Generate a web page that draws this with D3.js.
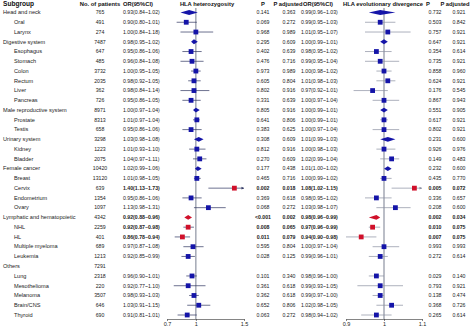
<!DOCTYPE html>
<html><head><meta charset="utf-8">
<script src="https://cdn.jsdelivr.net/npm/d3@7"></script>
<style>body{margin:0;background:#fff}svg{display:block;font-family:"Liberation Sans",Arial,sans-serif}</style>
</head><body><svg id="c" width="474" height="327"></svg>
<script>
const subgroups=["Head and neck","Oral","Larynx","Digestive system","Esophagus","Stomach","Colon","Rectum","Liver","Pancreas","Male reproductive system","Prostate","Testis","Urinary system","Kidney","Bladder","Female cancer","Breast","Cervix","Endometrium","Ovary","Lymphatic and hematopoietic","NHL","HL","Multiple myeloma","Leukemia","Others","Lung","Mesothelioma","Melanoma","Brain/CNS","Thyroid"];
const isGroup=[1,0,0,1,0,0,0,0,0,0,1,0,0,1,0,0,1,0,0,0,0,1,0,0,0,0,1,0,0,0,0,0];
const patients=["765","491","274","7487","647","485","3732","2035","362","726","8971","8313","658","3298","1223","2075","10420","13120","639","1354","1097","4342","2259","401","689","1213","7291","2318","220","3507","646","690"];
const or1=[0.93,0.90,1.00,0.98,0.95,0.96,1.00,0.98,0.98,0.95,1.00,1.01,0.95,1.03,1.01,1.04,1.02,1.01,1.40,0.95,1.13,0.92,0.92,0.86,0.97,0.92,null,0.96,0.92,0.98,1.03,0.91];
const lo1=[0.84,0.80,0.84,0.95,0.86,0.84,0.95,0.92,0.84,0.86,0.97,0.97,0.86,0.98,0.93,0.97,0.99,0.98,1.13,0.86,0.98,0.88,0.87,0.78,0.87,0.85,null,0.90,0.77,0.93,0.91,0.81];
const hi1=[1.02,1.01,1.18,1.02,1.06,1.08,1.05,1.05,1.14,1.05,1.04,1.04,1.06,1.08,1.10,1.11,1.06,1.05,1.73,1.06,1.31,0.96,0.98,0.94,1.08,0.99,null,1.01,1.10,1.03,1.15,1.01];
const p1=["0.141","0.069","0.968","0.295","0.402","0.476","0.973","0.605","0.802","0.331","0.805","0.641","0.383","0.308","0.812","0.270","0.177","0.465","0.002","0.369","0.068","<0.001","0.008","0.011","0.595","0.028","","0.101","0.361","0.362","0.652","0.063"];
const padj1=["0.363","0.272","0.989","0.609","0.639","0.716","0.989","0.804","0.916","0.639","0.916","0.806","0.625","0.609","0.916","0.609","0.438","0.716","0.018","0.618","0.272","0.002","0.065","0.079","0.804","0.125","","0.340","0.618","0.618","0.806","0.272"];
const sig1=[0,0,0,0,0,0,0,0,0,0,0,0,0,0,0,0,0,0,1,0,0,1,1,1,0,0,0,0,0,0,0,0];
const or2=[0.99,0.99,1.01,1.00,0.98,0.99,1.00,1.01,0.97,1.00,1.00,1.00,1.00,1.01,1.00,1.02,1.01,1.00,1.08,0.98,1.03,0.98,0.97,0.94,1.00,0.99,null,0.98,0.99,0.99,1.02,0.98];
const lo2=[0.96,0.95,0.95,0.99,0.95,0.95,0.98,0.98,0.92,0.97,0.99,0.99,0.97,0.99,0.98,0.99,1.00,0.99,1.02,0.95,0.98,0.96,0.96,0.90,0.97,0.96,null,0.96,0.93,0.97,0.98,0.94];
const hi2=[1.03,1.03,1.07,1.01,1.02,1.04,1.02,1.03,1.01,1.04,1.01,1.01,1.04,1.03,1.03,1.04,1.02,1.02,1.15,1.02,1.07,0.99,0.99,0.98,1.04,1.01,null,1.00,1.05,1.00,1.05,1.02];
const p2=["0.732","0.503","0.757","0.647","0.354","0.735","0.858","0.624","0.176","0.867","0.551","0.617","0.802","0.231","0.926","0.149","0.232","0.435","0.005","0.336","0.208","0.002","0.010","0.007","0.993","0.272","","0.029","0.793","0.138","0.368","0.265"];
const padj2=["0.921","0.842","0.921","0.921","0.614","0.921","0.960","0.921","0.545","0.943","0.905","0.921","0.921","0.600","0.976","0.483","0.600","0.770","0.072","0.657","0.600","0.034","0.075","0.075","0.993","0.614","","0.140","0.921","0.474","0.726","0.614"];
const sig2=[0,0,0,0,0,0,0,0,0,0,0,0,0,0,0,0,0,0,1,0,0,1,1,1,0,0,0,0,0,0,0,0];
const headers=["Subgroup","No. of patients","OR(95%CI)","HLA heterozygosity","P","P adjusted","OR(95%CI)","HLA evolutionary divergence","P","P adjusted"];
const ticks1=[0.7,1,1.5], ticks2=[0.9,1,1.1];

const svg=d3.select("#c");
const FS=5.2;
const y=d3.scalePoint().domain(d3.range(subgroups.length)).range([12.5,315]);
const x1=d3.scaleLinear().domain([0.7,1.5]).range([167,244]);
const x2=d3.scaleLinear().domain([0.9,1.1]).range([346,422]);
const BLUE="#1414a8", RED="#d0102a";
const fmt=d3.format(".2f");

// headers
const hx=[[3,"start",6.6],[100,"middle",5.8],[123,"start",5.8],[207,"middle",5.8],[263,"middle",5.8],[288,"middle",5.8],[303,"start",5.8],[383,"middle",5.8],[428,"middle",5.8],[455,"middle",5.8]];
headers.forEach((h,i)=>svg.append("text").attr("x",hx[i][0]).attr("y",6).attr("text-anchor",hx[i][1])
  .attr("font-size",hx[i][2]).attr("font-weight","bold").attr("fill","#111").text(h));

const rows=svg.append("g").selectAll("g").data(d3.range(subgroups.length)).join("g");
const T=(sel,x,anchor,f,bold,fs)=>sel.append("text").attr("x",x).attr("y",i=>y(i)+1.8).attr("text-anchor",anchor)
  .attr("font-size",fs||FS).attr("fill","#222").attr("font-weight",i=>bold&&bold(i)?"bold":"normal").text(f);
T(rows,i=>isGroup[i]?3:14,"start",i=>subgroups[i],null,5.6);
T(rows,100,"middle",i=>patients[i]);
T(rows,123,"start",i=>or1[i]==null?"":`${fmt(or1[i])}(${fmt(lo1[i])}~${fmt(hi1[i])})`,i=>sig1[i]);
T(rows,263,"middle",i=>p1[i],i=>sig1[i]);
T(rows,289,"middle",i=>padj1[i],i=>sig1[i]);
T(rows,301,"start",i=>or2[i]==null?"":`${fmt(or2[i])}(${fmt(lo2[i])}~${fmt(hi2[i])})`,i=>sig2[i]);
T(rows,435,"middle",i=>p2[i],i=>sig2[i]);
T(rows,459,"middle",i=>padj2[i],i=>sig2[i]);

function forest(x,or,lo,hi,sig,lineCol,ticks){
  const [d0,d1]=x.domain();
  const g=svg.append("g");
  g.append("line").attr("x1",x(1)).attr("x2",x(1)).attr("y1",8).attr("y2",319).attr("stroke","#3c4660").attr("stroke-width",0.7);
  const ax=d3.axisBottom(x).tickValues(ticks).tickFormat(d3.format("")).tickSize(2).tickSizeOuter(0);
  const a=g.append("g").attr("transform","translate(0,319)").call(ax);
  a.select(".domain").attr("stroke","#333").attr("stroke-width",0.6);
  a.selectAll(".tick line").attr("stroke","#333").attr("stroke-width",0.6);
  a.selectAll("text").attr("font-size",5.5).attr("fill","#222").attr("y",3).attr("font-family","Liberation Sans,Arial");
  or.forEach((v,i)=>{
    if(v==null) return;
    const col=sig[i]?RED:BLUE, yy=y(i);
    const xl=x(Math.max(lo[i],d0)), xh=x(Math.min(hi[i],d1));
    if(isGroup[i]){
      g.append("path").attr("d",`M${x(lo[i])},${yy}L${x(v)},${yy-2.4}L${x(hi[i])},${yy}L${x(v)},${yy+2.4}Z`).attr("fill",col);
    } else {
      g.append("line").attr("x1",xl).attr("x2",xh).attr("y1",yy).attr("y2",yy).attr("stroke",lineCol).attr("stroke-width",0.7);
      if(hi[i]>d1){
        g.append("path").attr("d",`M${xh},${yy}l-2.5,-1.3v2.6Z`).attr("fill",lineCol);
      }
      g.append("rect").attr("x",x(v)-2.4).attr("y",yy-2.4).attr("width",4.8).attr("height",4.8).attr("fill",col);
    }
  });
}
forest(x1,or1,lo1,hi1,sig1,"#2e3560",ticks1);
forest(x2,or2,lo2,hi2,sig2,"#8a8fa0",ticks2);
</script></body></html>
